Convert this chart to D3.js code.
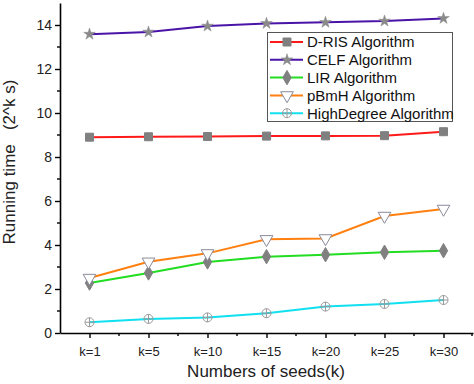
<!DOCTYPE html>
<html>
<head>
<meta charset="utf-8">
<script src="https://cdn.jsdelivr.net/npm/d3@7"></script>
<style>
  body { margin: 0; background: #fff; }
  svg { font-family: "Liberation Sans", Arial, sans-serif; }
</style>
</head>
<body>
<svg width="474" height="384"></svg>
<script>
// valores
var seeds = ["k=1", "k=5", "k=10", "k=15", "k=20", "k=25", "k=30"];
var drisVals = [8.9, 8.92, 8.93, 8.95, 8.96, 8.97, 9.15];
var celfVals = [13.58, 13.68, 13.95, 14.07, 14.12, 14.18, 14.3];
var lirVals = [2.27, 2.73, 3.23, 3.47, 3.56, 3.67, 3.74];
var pbmhVals = [2.5, 3.24, 3.62, 4.26, 4.3, 5.32, 5.64];
var highVals = [0.49, 0.64, 0.71, 0.9, 1.2, 1.32, 1.5];
var yTicks = [0, 2, 4, 6, 8, 10, 12, 14];

var series = [
  { name: "D-RIS Algorithm", values: drisVals, color: "#ff1a1a", marker: "square" },
  { name: "CELF Algorithm", values: celfVals, color: "#4a14a8", marker: "star" },
  { name: "LIR Algorithm", values: lirVals, color: "#22dd22", marker: "diamond" },
  { name: "pBmH Algorithm", values: pbmhVals, color: "#ff8010", marker: "tri" },
  { name: "HighDegree Algorithm", values: highVals, color: "#10e0f0", marker: "circ" }
];

var svg = d3.select("svg");
var x = d3.scalePoint().domain(seeds).range([60, 473]).padding(0.5);
var y = d3.scaleLinear().domain([0, 15]).range([333, 3]);

// ejes
var gx = svg.append("g").attr("transform", "translate(0,333)")
  .call(d3.axisBottom(x).tickSize(5).tickSizeOuter(0));
gx.select(".domain").attr("stroke-width", 1.6);
gx.selectAll(".tick line").attr("stroke-width", 1.4);
gx.selectAll("text").attr("font-size", 13).attr("fill", "#222").attr("dy", "1.15em");
// ticks menores en x
var mids = seeds.slice(0, -1).map(function(d, i) { return (x(d) + x(seeds[i + 1])) / 2; });
mids.push(x(seeds[seeds.length - 1]) + x.step() / 2 - 1);
svg.append("g").selectAll("line").data(mids).enter().append("line")
  .attr("x1", function(d) { return d; }).attr("x2", function(d) { return d; })
  .attr("y1", 333).attr("y2", 336).attr("stroke", "#000").attr("stroke-width", 1.4);

var gy = svg.append("g").attr("transform", "translate(60,0)")
  .call(d3.axisLeft(y).tickValues(yTicks).tickSize(5).tickSizeOuter(0));
gy.select(".domain").attr("stroke-width", 1.6);
gy.selectAll(".tick line").attr("stroke-width", 1.4);
gy.selectAll("text").attr("font-size", 14).attr("fill", "#222");
svg.append("g").selectAll("line").data([1, 3, 5, 7, 9, 11, 13]).enter().append("line")
  .attr("x1", 57).attr("x2", 60)
  .attr("y1", function(d) { return y(d); }).attr("y2", function(d) { return y(d); })
  .attr("stroke", "#000").attr("stroke-width", 1.4);

svg.append("text").attr("transform", "translate(15,162) rotate(-90)")
  .attr("text-anchor", "middle").attr("font-size", 17).attr("fill", "#222")
  .attr("xml:space", "preserve").style("white-space", "pre")
  .text("Running time   (2^k s)");
svg.append("text").attr("x", 266).attr("y", 377)
  .attr("text-anchor", "middle").attr("font-size", 17).attr("fill", "#222")
  .text("Numbers of seeds(k)");

function drawMarker(g, type) {
  if (type == "square") {
    g.append("path").attr("d", d3.symbol(d3.symbolSquare, 64)())
      .attr("fill", "#808080").attr("stroke", "#808080");
  } else if (type == "star") {
    g.append("path").attr("d", d3.symbol(d3.symbolStar, 42)())
      .attr("fill", "#8a8a8a").attr("stroke", "#8a8a8a").attr("stroke-width", 0.5);
  } else if (type == "diamond") {
    g.append("path").attr("d", d3.symbol(d3.symbolDiamond, 60)())
      .attr("fill", "#808080").attr("stroke", "#808080");
  } else if (type == "tri") {
    g.append("path").attr("d", d3.symbol(d3.symbolTriangle, 70)())
      .attr("transform", "rotate(180)")
      .attr("fill", "#fff").attr("stroke", "#8a8a9a").attr("stroke-width", 1);
  } else {
    g.append("circle").attr("r", 4.5).attr("fill", "none")
      .attr("stroke", "#9a9a9a").attr("stroke-width", 1);
    g.append("path").attr("d", "M-4.5,0H4.5M0,-4.5V4.5")
      .attr("stroke", "#9a9a9a").attr("stroke-width", 1);
  }
}

var line = d3.line()
  .x(function(d, i) { return x(seeds[i]); })
  .y(function(d) { return y(d); });

series.forEach(function(s) {
  svg.append("path").datum(s.values)
    .attr("d", line).attr("fill", "none")
    .attr("stroke", s.color).attr("stroke-width", 2);
  s.values.forEach(function(v, i) {
    var m = svg.append("g").attr("transform", "translate(" + x(seeds[i]) + "," + y(v) + ")");
    drawMarker(m, s.marker);
  });
});

// leyenda
var legend = svg.append("g");
legend.append("rect").attr("x", 267.5).attr("y", 32.5).attr("width", 185).attr("height", 89)
  .attr("fill", "#fff").attr("stroke", "#555").attr("stroke-width", 1);
series.forEach(function(s, i) {
  var ly = 42 + i * 17.8;
  legend.append("line").attr("x1", 270).attr("x2", 303).attr("y1", ly).attr("y2", ly)
    .attr("stroke", s.color).attr("stroke-width", 2);
  var m = legend.append("g").attr("transform", "translate(287," + ly + ")");
  drawMarker(m, s.marker);
  legend.append("text").attr("x", 307).attr("y", ly).attr("dy", "0.36em")
    .attr("font-size", 15).attr("fill", "#111").text(s.name);
});
</script>
</body>
</html>
